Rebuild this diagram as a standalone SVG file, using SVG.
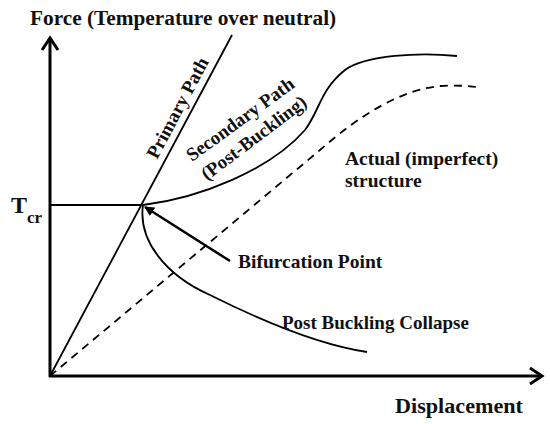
<svg xmlns="http://www.w3.org/2000/svg" width="550" height="424" viewBox="0 0 550 424">
<style>
text{font-family:"Liberation Serif","Times New Roman",serif;font-weight:bold;fill:#111}
.lb{font-size:19px}
.ax{stroke:#000;stroke-width:3;fill:none}
.ln{stroke:#000;stroke-width:1.8;fill:none}
</style>
<defs>
<marker id="ah" markerWidth="10" markerHeight="10" refX="9" refY="5" orient="auto" markerUnits="userSpaceOnUse">
<path d="M0,0 L10,5 L0,10 Z" fill="#000"/>
</marker>
</defs>
<rect width="550" height="424" fill="#fff"/>
<g id="axes">
<path class="ax" d="M50,377 V38"/>
<path class="ax" d="M42,50 L50,38 L58,50"/>
<path class="ax" d="M49,376 H541"/>
<path class="ax" d="M530,368 L542,376 L530,384"/>
</g>
<g id="connectors">
<path class="ln" d="M50,376 L232,35"/>
<path class="ln" d="M50,205 H143"/>
<path class="ln" d="M143,205 C200,198 270,170 305,130 C320,110 320,90 345,70 C365,55 420,52 457,56"/>
<path class="ln" d="M143,205 C138,240 165,275 210,295 C260,320 320,345 367,352"/>
<path class="ln" stroke-dasharray="8,6" d="M50,376 L320,150 C360,115 400,90 440,86 C455,85 470,86 476,87"/>
<path stroke="#000" stroke-width="2.5" fill="none" marker-end="url(#ah)" d="M230,261 L145,207"/>
</g>
<g id="labels">
<text x="30" y="25" font-size="21.3">Force (Temperature over neutral)</text>
<text x="11" y="213" font-size="24">T<tspan font-size="17" dy="10">cr</tspan></text>
<text class="lb" transform="translate(157,160) rotate(-62)">Primary Path</text>
<text class="lb" transform="translate(192,162) rotate(-36)">Secondary Path</text>
<text class="lb" transform="translate(207,181) rotate(-37)">(Post-Buckling)</text>
<text x="345" y="165" font-size="19.5">Actual (imperfect)</text>
<text x="345" y="187" font-size="19.5">structure</text>
<text x="238" y="268" font-size="19.5">Bifurcation Point</text>
<text x="282" y="329" class="lb">Post Buckling Collapse</text>
<text x="395" y="413" font-size="22" textLength="128" lengthAdjust="spacingAndGlyphs">Displacement</text>
</g>
</svg>
